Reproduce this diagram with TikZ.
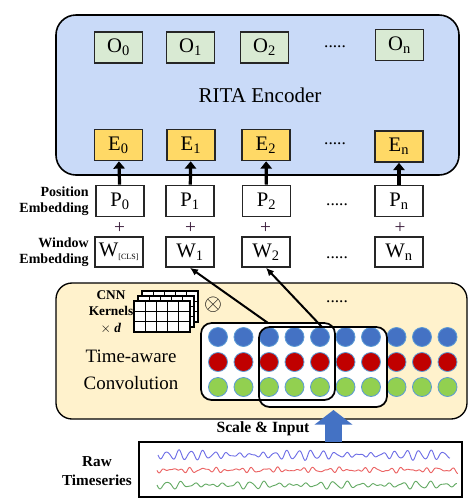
\documentclass[tikz,border=0pt]{standalone}
\usepackage{fontspec}
\setmainfont{Liberation Serif}
\usetikzlibrary{arrows.meta}

\definecolor{encfill}{RGB}{201,218,248}
\definecolor{outfill}{RGB}{217,234,211}
\definecolor{embfill}{RGB}{255,217,102}
\definecolor{convfill}{RGB}{255,242,204}
\definecolor{dotblue}{RGB}{68,114,196}
\definecolor{dotred}{RGB}{192,0,0}
\definecolor{dotgreen}{RGB}{146,208,80}
\definecolor{dotedge}{RGB}{91,155,213}
\definecolor{inblue}{RGB}{68,114,196}
\definecolor{wblue}{RGB}{110,110,230}
\definecolor{wred}{RGB}{235,100,100}
\definecolor{wgreen}{RGB}{100,170,100}
\definecolor{plusc}{RGB}{60,30,60}

\begin{document}
\begin{tikzpicture}[x=0.75pt,y=0.75pt,yscale=-1,xscale=1,
	tok/.style={draw={rgb,255:red,38;green,38;blue,38},line width=1.2pt,minimum width=36pt,minimum height=23.25pt,inner sep=0pt,font=\fontsize{15.5}{18}\selectfont},
	outtok/.style={tok,fill=outfill},
	embtok/.style={tok,fill=embfill},
	intok/.style={tok,fill=white},
	sidelbl/.style={anchor=east,align=right,inner sep=0.75pt,font=\bfseries\fontsize{10.5}{12}\selectfont},
	dotsl/.style={inner sep=0pt,font=\fontsize{13}{13}\selectfont},
	plusl/.style={inner sep=0pt,text=plusc,font=\fontsize{14.5}{14.5}\selectfont},
	thickarr/.style={line width=2.4pt,-{Triangle[length=5.5pt,width=8.5pt]}},
	thinarr/.style={line width=1.5pt,-{Latex[length=6pt,width=5.5pt]}},
	winbox/.style={line width=1.3pt,rounded corners=8pt}
	]
	\useasboundingbox (0,0) rectangle (474,501);
	
	%Shape: Rounded Rect [id:encoder] 
	\draw [line width=1.2pt,rounded corners=15pt,fill=encfill] (56,15) rectangle (459,175) ;
	%Shape: Rounded Rect [id:conv] 
	\draw [line width=1pt,rounded corners=12pt,fill=convfill] (56,283) rectangle (467,419) ;
	
	% Output tokens
	\node [outtok] (o0) at (118.5,47.5) {O\textsubscript{0}};
	\node [outtok] (o1) at (190.5,47.5) {O\textsubscript{1}};
	\node [outtok] (o2) at (264.5,47.5) {O\textsubscript{2}};
	\node [dotsl] (odots) at (335,47) {.....};
	\node [outtok] (on) at (399.5,45) {O\textsubscript{n}};
	% Text Node
	\node [font=\fontsize{15.8}{18}\selectfont] (enc) at (260,95) {RITA Encoder};
	% Input embeddings
	\node [embtok] (e0) at (118.5,145) {E\textsubscript{0}};
	\node [embtok] (e1) at (191,145) {E\textsubscript{1}};
	\node [embtok] (e2) at (266,145) {E\textsubscript{2}};
	\node [dotsl] (edots) at (335,144) {.....};
	\node [embtok] (en) at (399,146.5) {E\textsubscript{n}};
	% Position embeddings
	\node [intok] (p0) at (120,201) {P\textsubscript{0}};
	\node [intok] (p1) at (190,201) {P\textsubscript{1}};
	\node [intok] (p2) at (266.5,201) {P\textsubscript{2}};
	\node [dotsl] (pdots) at (337,205) {.....};
	\node [intok] (pn) at (399,201) {P\textsubscript{n}};
	% Window embeddings
	\node [intok,minimum height=22.5pt] (w0) at (119,252) {W\textsubscript{\fontsize{6}{6}\selectfont [CLS]}};
	\node [intok,minimum height=22.5pt] (w1) at (190,252) {W\textsubscript{1}};
	\node [intok,minimum height=22.5pt] (w2) at (266,252) {W\textsubscript{2}};
	\node [dotsl] (wdots) at (337,258) {.....};
	\node [intok,minimum height=22.5pt] (wn) at (399,252) {W\textsubscript{n}};
	% Plus signs
	\node [plusl] at (119.5,228) {+};
	\node [plusl] at (190.5,228) {+};
	\node [plusl] at (265.5,228) {+};
	\node [plusl] at (400,228) {+};
	% Side labels
	\node [sidelbl] (poslbl) at (90,201) {Position\\Embedding};
	\node [sidelbl] (winlbl) at (90,252) {Window\\Embedding};
	
	% P -> E arrows
	\draw [thickarr] (p0) -- (e0) ;
	\draw [thickarr] (p1) -- (e1) ;
	\draw [thickarr] (p2) -- (e2) ;
	\draw [thickarr] (pn) -- (en) ;
	
	% CNN kernels
	\foreach \k in {2,1,0} {
		\begin{scope}[shift={({4*\k},{-5*\k})}]
			\draw [line width=0.9pt,fill=white] (134,301) rectangle (190,332) ;
			\foreach \gx in {145.2,156.4,167.6,178.8} \draw [line width=0.9pt] (\gx,301) -- (\gx,332) ;
			\foreach \gy in {311.3,321.7} \draw [line width=0.9pt] (134,\gy) -- (190,\gy) ;
		\end{scope}
	}
	\node [align=center,inner sep=0.75pt,font=\bfseries\fontsize{10}{12.5}\selectfont] (kerlbl) at (111,312) {CNN\\Kernels\\$\times$ \textit{d}};
	\node [inner sep=0pt,font=\fontsize{19}{19}\selectfont] (otimes) at (213,305) {$\otimes$};
	\node [dotsl] (cdots) at (337,302) {.....};
	% Text Node
	\node [align=center,inner sep=0.75pt,font=\fontsize{14.2}{20}\selectfont] (convlbl) at (131,370) {Time-aware\\Convolution};
	
	% Sliding windows
	\fill [white,winbox] (201,323) rectangle (335,400) ;
	\fill [white,winbox] (259,327) rectangle (387,407) ;
	\foreach \i in {0,...,9} {
		\foreach \c [count=\r from 0] in {dotblue,dotred,dotgreen} {
			\draw [dotedge,line width=0.6pt,fill=\c] ({218+25.5*\i},{337+25*\r}) circle [radius=9.5] ;
		}
	}
	\draw [winbox] (201,323) rectangle (335,400) ;
	\draw [winbox] (259,327) rectangle (387,407) ;
	\coordinate (t1) at (268,323) ;
	\coordinate (t2) at (322,327) ;
	\draw [thinarr] (t1) -- (w1.south) ;
	\draw [thinarr] (t2) -- (w2.south) ;
	
	% Raw timeseries
	\draw [line width=1.2pt] (139,442) rectangle (462,497) ;
	\draw [wblue,line width=0.7pt] plot[domain=0:292,samples=500,smooth] ({158+\x},{455+4.5*sin(\x*30)*(0.65+0.35*sin(\x*3.1))+0.9*sin(\x*47)}) ;
	\draw [wred,line width=0.7pt] plot[domain=0:301,samples=500,smooth] ({157+\x},{470+1.1*sin(\x*41)+1.0*sin(\x*29+20)+0.7*sin(\x*53)+1.2*sin(\x*6.1)*sin(\x*17)}) ;
	\draw [wgreen,line width=0.7pt] plot[domain=0:300,samples=500,smooth] ({157+\x},{485+3.5*sin(\x*26)*(0.6+0.4*sin(\x*4.3+40))+0.9*sin(\x*43)}) ;
	\node [align=center,inner sep=0.75pt,font=\bfseries\fontsize{11.4}{14}\selectfont] (rawlbl) at (97,471) {Raw\\Timeseries};
	
	% Scale & Input
	\coordinate (up0) at (333.5,442) ;
	\coordinate (up1) at (333.5,410) ;
	\draw [inblue,line width=12.75pt,-{Triangle[length=11pt,width=28pt]}] (up0) -- (up1) ;
	\node [inner sep=0.75pt,font=\bfseries\fontsize{11.7}{14}\selectfont] (scalelbl) at (263,429) {Scale \& Input};
	
\end{tikzpicture}
\end{document}
